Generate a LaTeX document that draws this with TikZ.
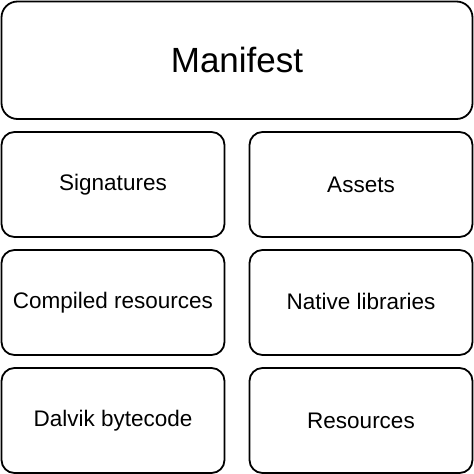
\documentclass[tikz,border=0pt]{standalone}
\usepackage{fontspec}
\setmainfont{Liberation Sans}
\begin{document}
\begin{tikzpicture}[x=1pt,y=-1pt,
  box/.style={draw=black, line width=1.8pt, rounded corners=13pt, inner sep=0pt, fill=white},
  bigbox/.style={box, rounded corners=16pt, minimum width=471pt, minimum height=117.5pt, font=\fontsize{35}{40}\selectfont},
  smallbox/.style={box, minimum width=223pt, minimum height=105pt, font=\fontsize{22.5}{26}\selectfont}]
\useasboundingbox (0,0) rectangle (474,474);
\node[bigbox] (manifest) at (237,60.25) {Manifest};
\node[smallbox] (sig) at (113,184.5) {\raisebox{2pt}{Signatures}};
\node[smallbox] (assets) at (361,184.5) {Assets};
\node[smallbox] (comp) at (113,302.5) {\raisebox{2pt}{Compiled resources}};
\node[smallbox] (native) at (361,302.5) {\raisebox{2pt}{Native libraries}};
\node[smallbox] (dalvik) at (113,420.5) {Dalvik bytecode};
\node[smallbox] (res) at (361,420.5) {Resources};
\end{tikzpicture}
\end{document}
